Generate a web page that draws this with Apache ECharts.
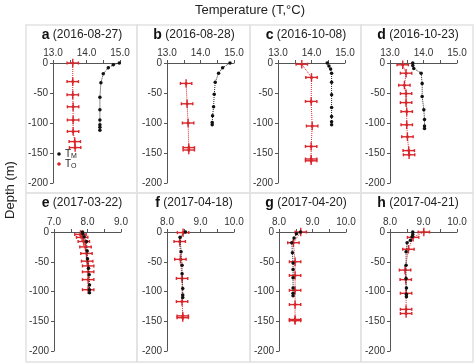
<!DOCTYPE html>
<html><head><meta charset="utf-8">
<script src="https://cdn.jsdelivr.net/npm/echarts@6/dist/echarts.min.js"></script>
<style>html,body{margin:0;padding:0;background:#fff}#c{width:474px;height:364px}</style>
</head><body><div id="c"></div>
<script>
// ---- data ----
const letters = ['a','b','c','d','e','f','g','h'];
const dates = ['2016-08-27','2016-08-28','2016-10-08','2016-10-23','2017-03-22','2017-04-18','2017-04-20','2017-04-21'];
const xMins = [13,13,13,13,7,8,8,8];
const xMaxs = [15,15,15,15,9,10,10,10];
const depthTicks = [0,-50,-100,-150,-200];

// T_M (measured): depth (m) and temperature (°C)
const tmDepthA = [0,3,8,18,33,57,78,95,103,107,112];
const tmTempA  = [14.98,14.8,14.65,14.5,14.43,14.4,14.4,14.4,14.4,14.4,14.4];
const tmDepthB = [0,8,17,32,52,73,88,99,103];
const tmTempB  = [14.88,14.66,14.54,14.44,14.41,14.39,14.36,14.35,14.35];
const tmDepthC = [0,5,10,17,32,53,74,89,98,103];
const tmTempC  = [14.47,14.52,14.57,14.6,14.6,14.6,14.6,14.6,14.6,14.6];
const tmDepthD = [0,4,9,17,34,56,78,94,105,109];
const tmTempD  = [13.68,13.68,13.71,13.93,13.96,13.96,14.01,14.03,14.03,14.03];
const tmDepthE = [0,3,8,16,32,45,61,72,89,97,102];
const tmTempE  = [7.85,7.86,7.9,7.97,7.99,8.0,8.03,8.05,8.06,8.06,8.06];
const tmDepthF = [0,9,33,56,70,95,106,110];
const tmTempF  = [8.55,8.39,8.42,8.45,8.45,8.47,8.47,8.47];
const tmDepthG = [0,3,10,18,35,52,63,77,94,103,107];
const tmTempG  = [8.64,8.52,8.45,8.38,8.4,8.42,8.42,8.42,8.42,8.42,8.42];
const tmDepthH = [0,4,8,14,18,33,56,78,94,105,109];
const tmTempH  = [8.68,8.68,8.66,8.61,8.51,8.48,8.48,8.48,8.49,8.49,8.49];

// T_O (observed): depth (m) and temperature (°C)
const toDepthA = [0,31,53,73,95,114,131,141];
const toTempA  = [13.59,13.59,13.59,13.6,13.6,13.6,13.65,13.66];
const toDepthB = [34,68,100,141,145];
const toTempB  = [13.57,13.6,13.63,13.65,13.65];
const toDepthC = [2,24,64,105,139,160,163];
const toTempC  = [13.71,14.0,13.99,14.02,13.99,13.99,13.99];
const toDepthD = [3,17,37,51,66,81,103,123,146,153];
const toTempD  = [13.38,13.48,13.43,13.48,13.48,13.5,13.5,13.52,13.56,13.57];
const toDepthE = [4,9,16,25,36,49,57,67,80,97];
const toTempE  = [7.79,7.84,7.89,7.94,7.97,7.99,8.02,8.02,8.02,8.02];
const toDepthF = [1,16,46,78,117,141,144];
const toTempF  = [8.48,8.38,8.4,8.45,8.45,8.47,8.47];
const toDepthG = [0,18,50,73,98,122,147,149];
const toTempG  = [8.65,8.43,8.48,8.48,8.48,8.48,8.48,8.48];
const toDepthH = [0,9,29,64,80,103,130,137];
const toTempH  = [9.01,8.69,8.55,8.45,8.47,8.48,8.48,8.48];

// T_O error half-widths per panel (°C, m)
const toErrT = [0.17,0.17,0.17,0.17,0.17,0.17,0.17,0.17];
const toErrD = [7,7,7,7,7,7,7,7];

const tmDepths = [tmDepthA,tmDepthB,tmDepthC,tmDepthD,tmDepthE,tmDepthF,tmDepthG,tmDepthH];
const tmTemps  = [tmTempA,tmTempB,tmTempC,tmTempD,tmTempE,tmTempF,tmTempG,tmTempH];
const toDepths = [toDepthA,toDepthB,toDepthC,toDepthD,toDepthE,toDepthF,toDepthG,toDepthH];
const toTemps  = [toTempA,toTempB,toTempC,toTempD,toTempE,toTempF,toTempG,toTempH];

// ---- layout ----
const gridLefts = [53,167,278,390,54,167,279,390];
const gridTops = [63,63,63,63,232,232,232,232];
const gridW = 67, gridHs = [120,120,120,120,119,119,119,119];
const RED = '#d9262b', BLACK = '#111';
const AX = '#555';

const grids = [], xAxes = [], yAxes = [], series = [];
for (let i = 0; i < 8; i++) {
  grids.push({left: gridLefts[i], top: gridTops[i], width: gridW, height: gridHs[i], containLabel: false});
  xAxes.push({
    type: 'value', gridIndex: i, position: 'top', min: xMins[i], max: xMaxs[i], interval: 0.5,
    axisLine: {show: true, onZero: false, lineStyle: {color: AX, width: 1}},
    axisTick: {show: true, length: 3, lineStyle: {color: AX}},
    splitLine: {show: false},
    axisLabel: {color: '#333', fontSize: 10, fontFamily: 'Liberation Sans, Arial', margin: 5,
      showMinLabel: true, showMaxLabel: true,
      formatter: v => (Math.abs(v - Math.round(v)) < 1e-6 ? v.toFixed(1) : '')}
  });
  yAxes.push({
    type: 'value', gridIndex: i, min: -200, max: 0, interval: 50,
    axisLine: {show: true, onZero: false, lineStyle: {color: AX, width: 1}},
    axisTick: {show: true, length: 3, lineStyle: {color: AX}},
    splitLine: {show: false},
    axisLabel: {color: '#333', fontSize: 10, fontFamily: 'Liberation Sans, Arial', margin: 5}
  });
  const toData = toDepths[i].map((d, k) => [toTemps[i][k], -d, toErrT[i], toErrD[i]]);
  series.push({
    type: 'line', xAxisIndex: i, yAxisIndex: i, data: toData.map(p => [p[0], p[1]]),
    symbol: 'circle', symbolSize: 3, itemStyle: {color: RED},
    lineStyle: {color: RED, width: 1, type: 'dotted'}, z: 2, silent: true, animation: false
  });
  series.push({
    type: 'custom', xAxisIndex: i, yAxisIndex: i, data: toData, z: 3, silent: true, animation: false,
    renderItem: (params, api) => {
      const t = api.value(0), y = api.value(1), et = api.value(2), ed = api.value(3);
      const l = api.coord([t - et, y]), r = api.coord([t + et, y]);
      const u = api.coord([t, y + ed]), dn = api.coord([t, y - ed]);
      const st = {stroke: RED, lineWidth: 1.4};
      return {type: 'group', children: [
        {type: 'line', shape: {x1: l[0], y1: l[1], x2: r[0], y2: r[1]}, style: st},
        {type: 'line', shape: {x1: u[0], y1: u[1], x2: dn[0], y2: dn[1]}, style: st},
        {type: 'line', shape: {x1: l[0], y1: l[1]-1.5, x2: l[0], y2: l[1]+1.5}, style: st},
        {type: 'line', shape: {x1: r[0], y1: r[1]-1.5, x2: r[0], y2: r[1]+1.5}, style: st}
      ]};
    }
  });
  series.push({
    type: 'line', xAxisIndex: i, yAxisIndex: i,
    data: tmDepths[i].map((d, k) => [tmTemps[i][k], -d]),
    symbol: 'circle', symbolSize: 3.5, itemStyle: {color: BLACK},
    lineStyle: {color: '#222', width: 1, type: 'dotted'}, z: 4, silent: true, animation: false
  });
}

// panel boxes, titles, legend
const graphic = [];
const colX = [26, 137, 250, 361, 473];
const rowY = [25, 193, 362];
for (let r = 0; r < 2; r++) for (let c = 0; c < 4; c++) {
  graphic.push({type: 'rect', silent: true, z: -10,
    shape: {x: colX[c], y: rowY[r], width: colX[c+1] - colX[c], height: rowY[r+1] - rowY[r]},
    style: {fill: 'none', stroke: '#e2e2e2', lineWidth: 1.5}});
}
const titleCx = [82, 194, 306, 418, 82, 194, 306, 418];
const titleCy = [35, 35, 35, 35, 203, 203, 203, 203];
for (let i = 0; i < 8; i++) {
  graphic.push({type: 'text', x: titleCx[i], y: titleCy[i], silent: true,
    style: {text: '{b|' + letters[i] + '} {n|(' + dates[i] + ')}', align: 'center', verticalAlign: 'middle',
      rich: {b: {fontSize: 14, fontWeight: 'bold', fontFamily: 'Liberation Sans, Arial', fill: '#111'},
             n: {fontSize: 12, fontFamily: 'Liberation Sans, Arial', fill: '#222'}}}});
}
graphic.push({type: 'text', x: 250, y: 10, silent: true,
  style: {text: 'Temperature (T,°C)', align: 'center', verticalAlign: 'middle', fontSize: 13,
    fontFamily: 'Liberation Sans, Arial', fill: '#222'}});
graphic.push({type: 'text', x: 10, y: 190, rotation: Math.PI / 2, silent: true,
  style: {text: 'Depth (m)', align: 'center', verticalAlign: 'middle', fontSize: 13,
    fontFamily: 'Liberation Sans, Arial', fill: '#222'}});
// legend (panel a)
graphic.push({type: 'circle', shape: {cx: 59, cy: 154, r: 1.8}, style: {fill: BLACK}, silent: true});
graphic.push({type: 'circle', shape: {cx: 59, cy: 164, r: 1.8}, style: {fill: RED}, silent: true});
const legRich = {t: {fontSize: 10, fontFamily: 'Liberation Sans, Arial', fill: '#222'},
                 s: {fontSize: 7, fontFamily: 'Liberation Sans, Arial', fill: '#222', padding: [5, 0, 0, 0]}};
graphic.push({type: 'text', x: 65, y: 154, silent: true,
  style: {text: '{t|T}{s|M}', verticalAlign: 'middle', rich: legRich}});
graphic.push({type: 'text', x: 65, y: 164, silent: true,
  style: {text: '{t|T}{s|O}', verticalAlign: 'middle', rich: legRich}});

const chart = echarts.init(document.getElementById('c'), null, {renderer: 'canvas'});
chart.setOption({animation: false, backgroundColor: '#fff', grid: grids, xAxis: xAxes, yAxis: yAxes, series, graphic});
</script></body></html>
